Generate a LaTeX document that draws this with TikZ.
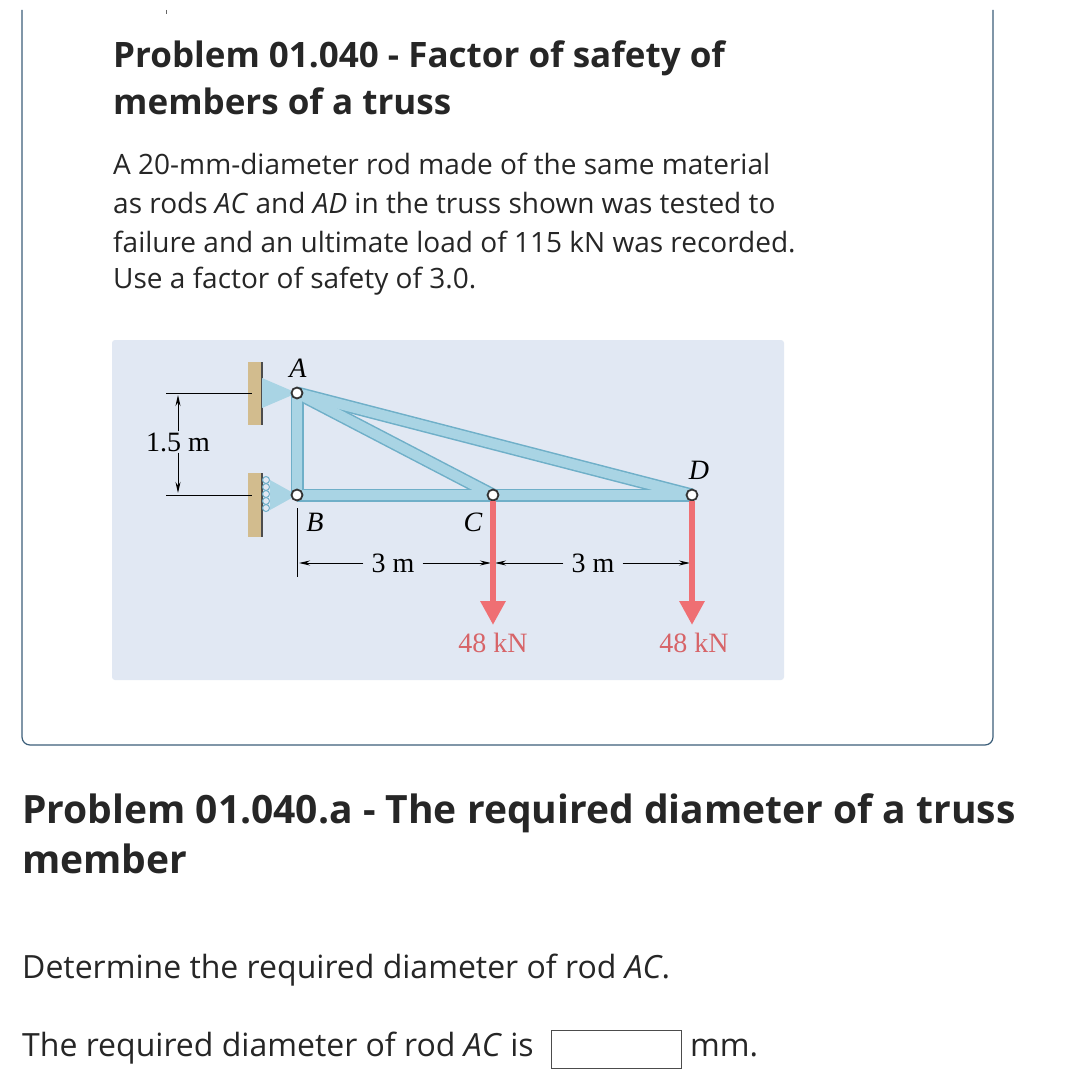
\documentclass[tikz,border=0pt]{standalone}
\usepackage{fontspec}
\setmainfont{Open Sans}
\newfontfamily\serf{Liberation Serif}
\usetikzlibrary{arrows.meta}
\definecolor{bgbox}{HTML}{E1E8F3}
\definecolor{mem}{HTML}{A9D4E4}
\definecolor{memd}{HTML}{6FAFC8}
\definecolor{wall}{HTML}{D2BC8E}
\definecolor{force}{HTML}{EF6F73}
\definecolor{frame}{HTML}{3C5F7A}
\tikzset{
 body/.style={anchor=west,font=\fontsize{28}{34}\selectfont,text=black!85,inner sep=0},
 bodyb/.style={anchor=west,font=\fontsize{32}{38}\selectfont,text=black!85,inner sep=0},
 title/.style={anchor=west,font=\fontsize{35}{40}\selectfont\bfseries,text=black!85,inner sep=0},
 titleb/.style={anchor=west,font=\fontsize{39}{44}\selectfont\bfseries,text=black!85,inner sep=0},
 lab/.style={font=\serf\fontsize{28}{32}\selectfont,inner sep=1},
 ilab/.style={font=\serf\itshape\fontsize{28}{32}\selectfont,inner sep=1},
 member/.style={draw=memd,line width=13pt},
 memberin/.style={draw=mem,line width=10pt},
 pin/.style={circle,draw=black!80,fill=white,line width=1.8pt,minimum size=11pt,inner sep=0},
 dim/.style={draw=black,line width=1pt},
 dimarr/.style={dim,-{Stealth[length=11pt,width=5pt]}},
}
\begin{document}
\begin{tikzpicture}[x=1pt,y=-1pt]
\useasboundingbox (0,0) rectangle (1080,1083);
\fill[white] (0,0) rectangle (1080,1083);
\draw[frame,line width=1.2pt,rounded corners=8pt] (22,10) -- (22,745) -- (993,745) -- (993,10);
\draw[black!60,line width=1pt] (166,10) -- (166,14);
\node[title] (t1) at (113,58) {Problem 01.040 - Factor of safety of};
\node[title] (t2) at (113,101) {members of a truss};
\node[body] (b1) at (113,164) {A 20-mm-diameter rod made of the same material};
\node[body] (b2) at (113,203) {as rods \textit{AC} and \textit{AD} in the truss shown was tested to};
\node[body] (b3) at (113,242) {failure and an ultimate load of 115 kN was recorded.};
\node[body] (b4) at (113,281) {Use a factor of safety of 3.0.};
% figure
\fill[bgbox,rounded corners=3pt] (112,340) rectangle (784,680);
\coordinate (A) at (297,393);
\coordinate (B) at (297,495);
\coordinate (C) at (493,495);
\coordinate (D) at (692,495);
% walls
\fill[wall] (248,362) rectangle (262,425);
\fill[wall] (248,473) rectangle (262,537);
\draw[black!70,line width=1.5pt] (262,362) -- (262,425) (262,473) -- (262,537);
% supports
\fill[mem] (262,378) -- (297,393) -- (262,408) -- cycle;
\fill[mem] (270,480) -- (297,495) -- (270,510) -- cycle;
\foreach \yy in {480,487,494,501,508}{\draw[memd,line width=1pt] (266,\yy) circle (3.5pt);}
% members
\foreach \p/\q in {A/C,A/D,A/B,B/D}{\draw[member] (\p) -- (\q);}
\foreach \p/\q in {A/C,A/D,A/B,B/D}{\draw[memberin] (\p) -- (\q);}
\node[pin] (nA) at (A) {};
\node[pin] (nB) at (B) {};
\node[pin] (nC) at (C) {};
\node[pin] (nD) at (D) {};
\node[ilab] (lA) at (298,368) {A};
\node[ilab] (lB) at (315,522) {B};
\node[ilab] (lC) at (473,522) {C};
\node[ilab] (lD) at (699,470) {D};
% dims vertical
\draw[dim] (166,393) -- (252,393);
\draw[dim] (166,495) -- (252,495);
\node[lab,fill=bgbox] (d15) at (178,442) {1.5 m};
\draw[dimarr] (d15.north -| 178,0) -- (178,395);
\draw[dimarr] (d15.south -| 178,0) -- (178,493);
% dims horizontal
\draw[dim] (297,508) -- (297,577);
\node[lab,fill=bgbox,inner xsep=8pt] (d3a) at (393,563) {3 m};
\node[lab,fill=bgbox,inner xsep=8pt] (d3b) at (593,563) {3 m};
\draw[dimarr] (d3a.west) -- (299,563);
\draw[dimarr] (d3a.east) -- (491,563);
\draw[dimarr] (d3b.west) -- (495,563);
\draw[dimarr] (d3b.east) -- (690,563);
% forces
\coordinate (Cf) at (493,625);
\coordinate (Df) at (692,625);
\draw[force,line width=6pt,-{Triangle[length=24pt,width=24pt]}] (nC.south) -- (Cf);
\draw[force,line width=6pt,-{Triangle[length=24pt,width=24pt]}] (nD.south) -- (Df);
\node[lab,text=force!90!black] (fC) at (493,643) {48 kN};
\node[lab,text=force!90!black] (fD) at (694,643) {48 kN};
% lower part
\node[titleb] (t3) at (22,813) {Problem 01.040.a - The required diameter of a truss};
\node[titleb] (t4) at (22,859) {member};
\node[bodyb] (b5) at (22,970) {Determine the required diameter of rod \textit{AC}.};
\node[bodyb] (b6) at (22,1048) {The required diameter of rod \textit{AC} is};
\draw[black!70,line width=1pt] (551,1030) rectangle (681,1068);
\node[bodyb] (b7) at (690,1048) {mm.};
\end{tikzpicture}
\end{document}
